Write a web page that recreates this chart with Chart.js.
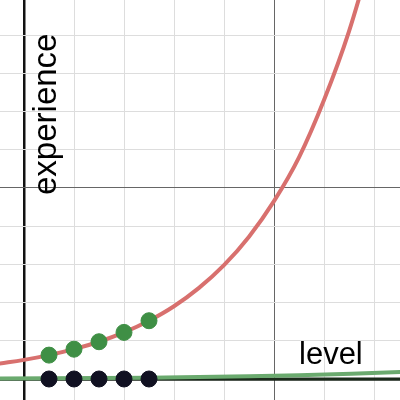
<!DOCTYPE html>
<html><head><script src="https://cdn.jsdelivr.net/npm/chart.js"></script>
<style>body{margin:0}#w{width:400px;height:400px}</style></head>
<body><div id="w"><canvas id="c"></canvas></div>
<script>
const redX=[-1,0,1,2,3,4,5,6,7,8,9,10,11,12,13,14];
const redY=[0.8,1,1.25,1.56,1.95,2.44,3.05,3.81,4.77,5.96,7.45,9.31,11.6,14.6,18.2,22.7];
const greenLineX=[-1,3,7,11,15.2];
const greenLineY=[0.02,0.05,0.1,0.2,0.37];
const dotX=[1,2,3,4,5];
const greenDotY=[1.25,1.56,1.95,2.44,3.05];
const blackDotY=[0,0,0,0,0];
const gridTicks=[0,2,4,6,8,10,12,14,16,18];
const xy=(xs,ys)=>xs.map((x,i)=>({x,y:ys[i]}));
const labels={id:'lab',afterDraw(ch){const c=ch.ctx;c.save();c.fillStyle='#000';
c.font='31px "Liberation Sans",Arial';c.fillText('level',299,364);
c.font='33px "Liberation Sans",Arial';c.translate(56,195);c.rotate(-Math.PI/2);c.fillText('experience',0,0);c.restore();}};
const gridCol=ctx=>ctx.tick.value===0?'#111':(ctx.tick.value===10?'#666':'#ddd');
const gridW=ctx=>ctx.tick.value===0?2.5:1;
const setTicks=s=>{s.ticks=gridTicks.map(v=>({value:v}));};
new Chart(document.getElementById('c'),{type:'scatter',
data:{datasets:[
{data:xy(dotX,blackDotY),backgroundColor:'#111122',borderColor:'#111122',pointRadius:8,showLine:false,order:0},
{data:xy(dotX,greenDotY),backgroundColor:'#3f8f45',borderColor:'#3f8f45',pointRadius:8,showLine:false,order:0},
{data:[{x:-1,y:0},{x:16,y:0}],showLine:true,borderColor:'#1a2a1a',borderWidth:3,pointRadius:0,order:2},
{data:xy(greenLineX,greenLineY),showLine:true,borderColor:'#6aaa6e',borderWidth:4,pointRadius:0,tension:0.4,order:1},
{data:xy(redX,redY),showLine:true,borderColor:'#d8706e',borderWidth:4,pointRadius:0,tension:0.4,order:1}
]},
options:{responsive:true,maintainAspectRatio:false,animation:false,layout:{padding:0,autoPadding:false},
plugins:{legend:{display:false},tooltip:{enabled:false}},
scales:{x:{type:'linear',min:-0.96,max:15.04,afterBuildTicks:setTicks,ticks:{display:false},border:{display:false},grid:{color:gridCol,lineWidth:gridW,drawTicks:false}},
y:{type:'linear',min:-1.1,max:19.84,afterBuildTicks:setTicks,ticks:{display:false},border:{display:false},grid:{color:gridCol,lineWidth:gridW,drawTicks:false}}}},
plugins:[labels]});
</script></body></html>
